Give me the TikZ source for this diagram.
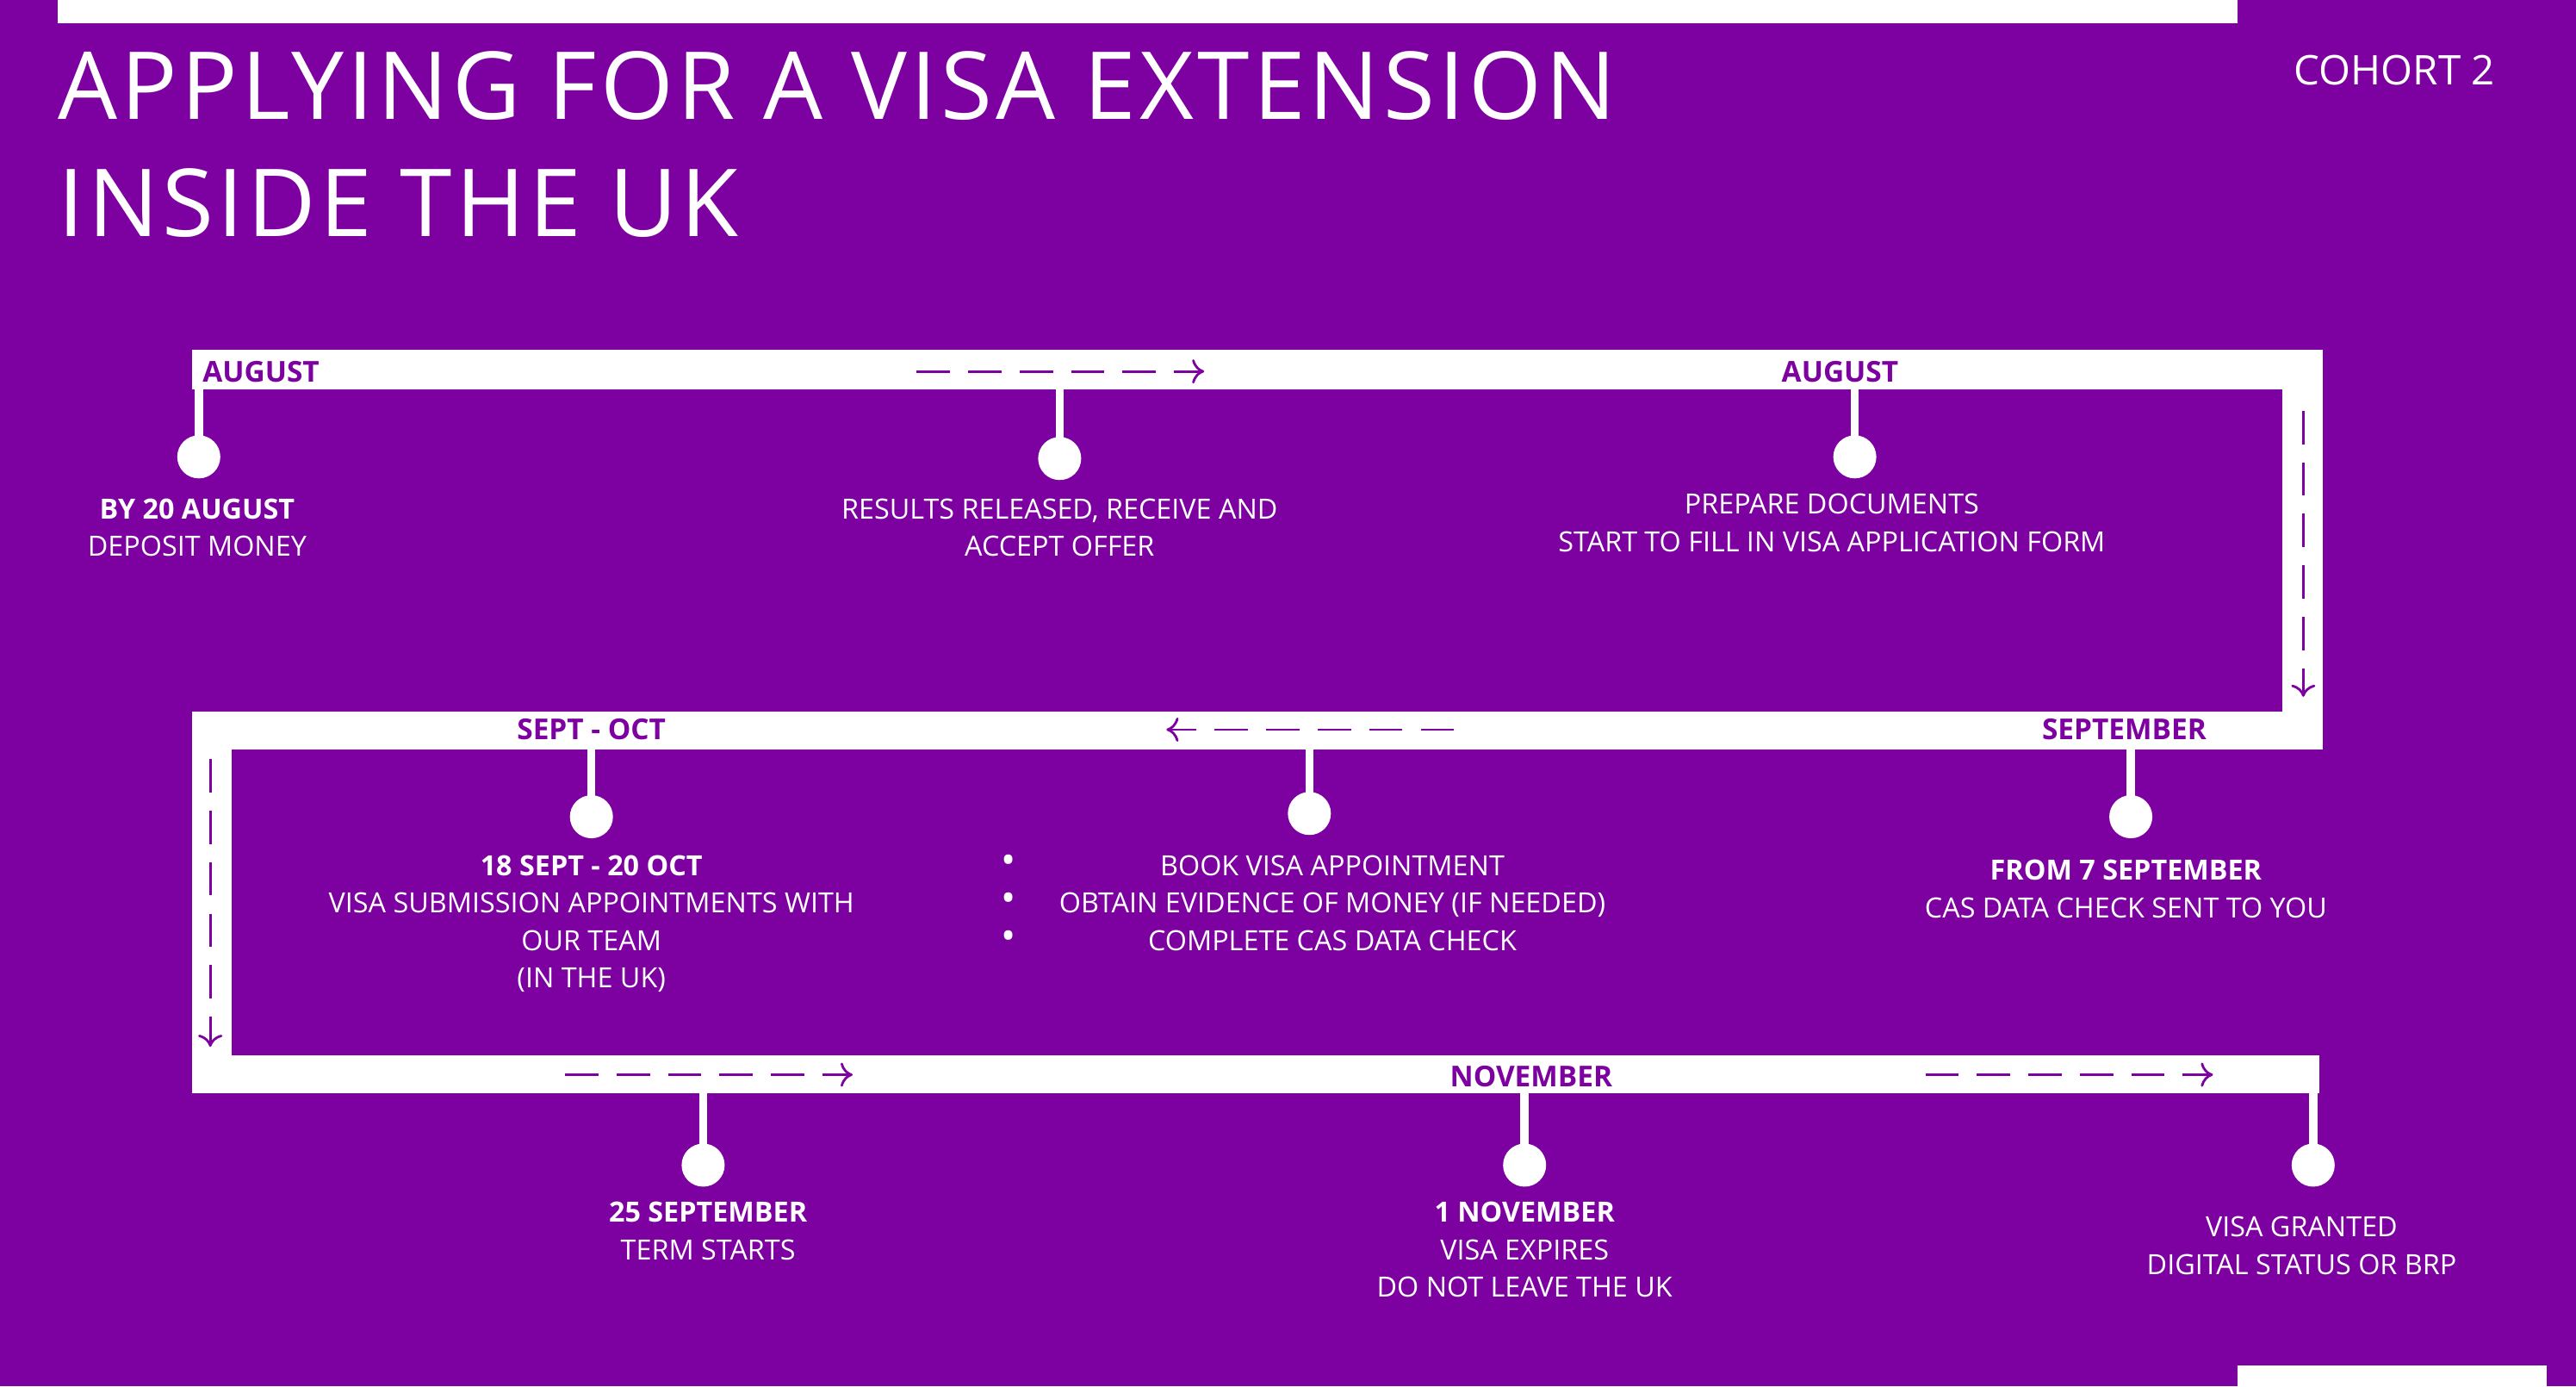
\documentclass[tikz,border=0pt]{standalone}
\usepackage{fontspec}
\setmainfont{Open Sans}
\usetikzlibrary{arrows.meta}
\definecolor{visapurple}{HTML}{7D00A0}
\tikzstyle{band}=[fill=white,draw=none]
\tikzstyle{stem}=[white,line width=5pt*0.54]
\tikzstyle{dot}=[circle,fill=white,inner sep=0pt,minimum size=0.5cm]
\tikzstyle{month}=[text=visapurple,font=\bfseries\fontsize{9.5}{11}\selectfont,inner sep=0pt]
\tikzstyle{info}=[text=white,align=center,font=\fontsize{9.2}{12.4}\selectfont,inner sep=0pt,anchor=north]
\tikzstyle{flow}=[visapurple,line width=0.8pt,dash pattern=on 11pt off 6pt,-{To[length=4pt,width=8pt]}]
\newcommand\Milestone[4]{
  \draw[stem] (#2,#3) -- (#2,#4);
  \node[dot] (#1) at (#2,#4) {};
}
\begin{document}
\begin{tikzpicture}[x=0.019075cm,y=-0.019075cm]
  \fill[visapurple] (0,0) rectangle (1568,843.5);
  \useasboundingbox (0,0) rectangle (1568,843.5);
  \fill[white] (35,0) rectangle (1362,14);
  \fill[white] (1362,831) rectangle (1550,843.5);
  \node[text=white,anchor=north west,align=left,inner sep=0pt,font=\addfontfeatures{LetterSpace=4}\fontsize{31}{38.5}\selectfont] (title) at (35,31) {APPLYING FOR A VISA EXTENSION\\INSIDE THE UK};
  \node[text=white,anchor=north east,inner sep=0pt,font=\fontsize{13.5}{16}\selectfont] (cohort) at (1519,33) {COHORT 2};
  % the track
  \fill[band] (117,213) rectangle (1414,237);
  \fill[band] (1389,213) rectangle (1414,456);
  \fill[band] (117,433) rectangle (1414,456);
  \fill[band] (117,433) rectangle (141,665);
  \fill[band] (117,642) rectangle (1412,665);
  % milestones
  \Milestone{m1}{121}{235}{278}
  \Milestone{m2}{645}{235}{279}
  \Milestone{m3}{1129}{235}{278}
  \Milestone{m4}{1297}{454}{497}
  \Milestone{m5}{797}{454}{495}
  \Milestone{m6}{360}{454}{497}
  \Milestone{m7}{428}{663}{709}
  \Milestone{m8}{928}{663}{709}
  \Milestone{m9}{1408}{663}{709}
  % months
  \node[month,anchor=west] (aug1) at (123,226) {AUGUST};
  \node[month] (aug2) at (1120,226) {AUGUST};
  \node[month] (sep) at (1293,444) {SEPTEMBER};
  \node[month] (sepoct) at (360,444) {SEPT - OCT};
  \node[month] (nov) at (932,655) {NOVEMBER};
  % direction arrows
  \coordinate (a1) at (558,226); \coordinate (b1) at (733,226);
  \coordinate (a2) at (1402,250); \coordinate (b2) at (1402,424);
  \coordinate (a3) at (885,444); \coordinate (b3) at (710,444);
  \coordinate (a4) at (128,462); \coordinate (b4) at (128,637);
  \coordinate (a5) at (344,654); \coordinate (b5) at (519,654);
  \coordinate (a6) at (1172,654); \coordinate (b6) at (1347,654);
  \foreach \i in {1,...,6} \draw[flow] (a\i) -- (b\i);
  % texts
  \node[info] (t1) at (120,303) {\textbf{BY 20 AUGUST}\\DEPOSIT MONEY};
  \node[info] (t2) at (645,303) {RESULTS RELEASED, RECEIVE AND\\ACCEPT OFFER};
  \node[info] (t3) at (1115,300) {PREPARE DOCUMENTS\\START TO FILL IN VISA APPLICATION FORM};
  \node[info] (t4) at (1294,523) {\textbf{FROM 7 SEPTEMBER}\\CAS DATA CHECK SENT TO YOU};
  \node[info] (t5) at (811,520) {BOOK VISA APPOINTMENT\\OBTAIN EVIDENCE OF MONEY (IF NEEDED)\\COMPLETE CAS DATA CHECK};
  \node[info,font=\fontsize{13}{12.4}\selectfont] (t5b) at (614,520) {\textbullet\\\textbullet\\\textbullet};
  \node[info] (t6) at (360,520) {\textbf{18 SEPT - 20 OCT}\\VISA SUBMISSION APPOINTMENTS WITH\\OUR TEAM\\(IN THE UK)};
  \node[info] (t7) at (431,731) {\textbf{25 SEPTEMBER}\\TERM STARTS};
  \node[info] (t8) at (928,731) {\textbf{1 NOVEMBER}\\VISA EXPIRES\\DO NOT LEAVE THE UK};
  \node[info] (t9) at (1401,740) {VISA GRANTED\\DIGITAL STATUS OR BRP};
\end{tikzpicture}
\end{document}
